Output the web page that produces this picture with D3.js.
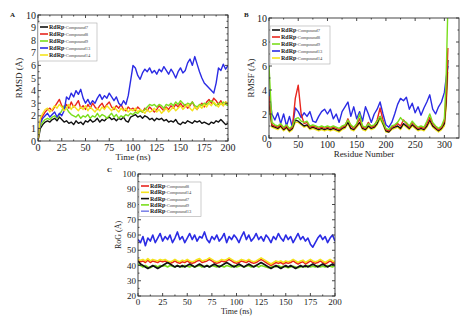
<!DOCTYPE html>
<html>
<head>
<meta charset="UTF-8" />
<script src="https://cdn.jsdelivr.net/npm/d3@7"></script>
<style>
  body { margin: 0; background: #fff; }
  svg { display: block; }
  text { font-family: "Liberation Serif", "DejaVu Serif", serif; fill: #1a1a1a; }
</style>
</head>
<body>
<div id="chart"></div>
<script>
// ---- panel A: RMSD, sampled every 2.5 ns ----
const rmsd7  = [0,1.0,1.3,1.5,1.6,1.5,1.7,1.8,1.6,1.9,1.7,1.5,1.6,1.4,1.5,1.3,1.6,1.4,1.5,1.3,1.6,1.5,1.7,1.5,1.6,1.8,1.5,1.7,1.6,1.8,1.9,1.7,1.8,1.6,1.8,1.7,1.9,1.6,1.5,1.9,2.0,2.1,1.9,2.0,1.8,2.0,1.9,1.7,1.8,1.6,1.8,1.7,1.8,1.6,1.7,1.5,1.6,1.5,1.7,1.4,1.3,1.5,1.4,1.6,1.5,1.4,1.6,1.5,1.6,1.4,1.5,1.4,1.3,1.5,1.4,1.6,1.5,1.7,1.5,1.3,1.4];
const rmsd8  = [0,1.6,2.0,2.3,2.5,2.6,2.4,2.7,3.0,3.3,2.8,2.5,2.9,2.6,3.1,2.7,2.9,3.2,2.6,2.8,2.5,2.9,2.6,3.0,2.7,2.5,2.8,3.0,2.6,2.9,3.1,2.7,2.5,2.8,2.6,2.9,2.5,2.4,2.7,2.5,2.6,2.4,2.7,2.5,2.3,2.6,2.4,2.7,2.5,2.3,2.5,2.8,2.6,2.4,2.7,2.5,2.8,2.6,2.9,2.7,3.0,2.7,2.9,2.6,2.8,3.1,2.7,2.5,2.8,3.0,2.7,3.1,3.3,3.0,3.4,3.2,2.9,3.2,2.8,3.1,2.9];
const rmsd9  = [0.2,1.2,1.5,1.7,1.8,1.7,1.9,2.0,1.8,2.1,2.4,2.8,2.6,2.3,2.1,2.0,1.9,2.1,1.8,2.0,1.9,2.1,1.8,2.0,1.9,2.2,1.9,2.1,2.0,1.8,2.0,2.2,1.9,2.1,1.8,2.0,1.9,2.1,2.0,2.2,2.1,2.3,2.2,2.4,2.3,2.5,2.7,2.9,2.8,2.9,2.7,2.9,2.8,2.6,2.9,2.8,3.0,2.8,3.1,2.9,3.2,3.0,2.8,3.0,2.9,3.1,2.8,2.7,2.9,2.8,3.0,2.9,3.1,3.2,3.0,2.8,3.0,2.9,3.1,2.9,2.8];
const rmsd13 = [0.3,1.4,1.8,2.0,2.2,1.9,2.1,2.3,1.9,2.2,2.0,2.4,3.5,3.3,3.8,3.5,4.0,3.7,4.1,3.4,3.0,3.3,2.9,3.2,3.0,3.4,3.7,3.3,3.6,3.4,3.8,3.5,3.2,3.5,3.0,2.8,3.2,2.9,3.6,4.8,6.0,5.8,5.2,4.9,5.4,5.7,5.5,5.8,5.4,5.6,5.3,5.7,5.5,5.9,5.6,5.3,5.7,5.4,5.0,5.5,5.8,5.4,5.6,6.2,6.5,6.0,6.7,6.1,5.5,5.0,4.6,4.4,4.2,4.0,3.8,4.6,5.8,5.6,6.1,5.7,6.0];
const rmsd14 = [0.1,1.8,2.2,2.5,2.6,2.3,2.5,2.8,2.6,2.9,2.7,2.4,2.6,2.9,2.5,2.8,2.6,2.4,2.7,2.5,2.8,2.4,2.7,2.5,2.3,2.6,2.4,2.7,2.5,2.8,2.6,2.4,2.7,2.5,2.3,2.6,2.4,2.6,2.3,2.5,2.4,2.6,2.3,2.5,2.4,2.2,2.5,2.3,2.4,2.6,2.3,2.5,2.2,2.4,2.6,2.3,2.5,2.7,2.4,2.6,2.8,2.5,2.7,2.9,2.6,2.4,2.7,2.5,2.8,2.6,2.9,2.7,3.0,2.8,3.1,2.9,2.7,3.0,2.8,3.1,3.0];

// ---- panel B: RMSF per residue ----
const residues = [0,5,10,15,20,25,30,35,40,45,50,55,60,65,70,75,80,85,90,95,100,105,110,115,120,125,130,135,140,145,150,155,160,165,170,175,180,185,190,195,200,205,210,215,220,225,230,235,240,245,250,255,260,265,270,275,280,285,290,295,300,303,306];
const rmsf7  = [3.0,1.0,0.9,0.8,1.0,0.7,0.9,0.6,0.8,1.5,1.4,1.2,1.0,1.1,0.8,0.9,0.8,0.7,0.8,0.7,0.8,0.7,0.8,0.7,0.6,0.8,0.9,1.3,0.8,0.7,1.0,1.3,0.8,0.7,1.0,0.8,0.9,1.2,1.8,1.2,0.6,0.5,0.8,0.9,1.0,0.8,1.2,1.0,0.8,1.1,0.9,0.7,0.8,0.7,1.0,1.5,1.0,0.8,0.6,0.8,1.2,3.0,6.5];
const rmsf8  = [3.5,1.1,1.0,0.9,1.1,0.8,1.0,0.7,0.9,3.3,4.4,2.0,1.2,1.3,0.9,1.0,0.9,0.8,0.9,0.8,0.9,0.8,0.9,0.8,0.7,0.9,1.0,1.6,1.0,0.8,1.1,1.6,0.9,0.8,1.3,0.9,1.0,1.5,2.5,1.5,0.7,0.6,0.9,1.0,1.2,1.0,1.5,1.2,0.9,1.3,1.0,0.8,0.9,0.8,1.2,1.7,1.2,0.9,0.7,0.9,1.4,3.5,7.5];
const rmsf9  = [6.0,1.3,1.1,1.0,1.2,0.9,1.1,0.8,1.0,1.6,1.7,1.4,1.3,1.4,1.0,1.1,1.0,0.9,1.0,0.9,1.0,0.9,1.0,0.9,0.8,1.0,1.1,1.5,1.1,0.9,1.2,2.0,1.0,0.9,1.2,1.0,1.1,1.4,1.8,1.3,0.8,0.7,1.0,1.1,1.3,1.7,1.4,1.3,1.0,1.4,1.1,0.9,1.0,0.9,1.4,2.0,1.3,1.0,0.8,1.0,1.6,5.0,11];
const rmsf13 = [4.0,2.0,1.5,2.1,1.2,2.0,1.0,1.8,0.9,2.5,2.2,1.7,2.1,1.8,2.2,1.4,1.3,1.8,2.2,2.4,2.0,2.4,1.6,2.0,1.3,2.2,2.6,3.0,1.8,2.6,1.6,2.2,1.4,2.6,2.0,1.3,2.0,2.4,3.0,2.0,1.1,0.9,1.3,2.0,2.8,3.3,3.1,3.4,2.4,2.9,2.1,2.6,1.9,2.5,3.0,3.6,2.4,2.0,2.6,3.0,3.8,5.0,6.0];
const rmsf14 = [2.8,0.9,0.8,0.7,0.9,0.6,0.8,0.5,0.7,1.3,1.3,1.1,0.9,1.0,0.7,0.8,0.7,0.6,0.7,0.6,0.7,0.6,0.7,0.6,0.5,0.7,0.8,1.2,0.7,0.6,0.9,1.2,0.7,0.6,0.9,0.7,0.8,1.1,1.6,1.1,0.5,0.5,0.7,0.8,0.9,0.7,1.1,0.9,0.7,1.0,0.8,0.6,0.7,0.6,0.9,1.3,0.9,0.7,0.5,0.7,1.0,2.5,5.5];

// ---- panel C: radius of gyration, sampled every 2.5 ns ----
const rog13 = [57,55,59,53,58,56,60,55,58,61,56,59,57,60,55,58,62,57,59,55,58,61,57,60,56,59,58,62,57,55,59,57,60,56,58,61,55,59,57,60,58,55,59,62,57,60,56,58,61,57,59,56,60,58,55,59,57,61,58,56,60,57,59,55,58,61,57,59,56,58,54,52,55,58,60,57,59,55,58,60,56];
const rog14 = [44,43.5,44,43,44.5,43,44,43.5,43,44,43.5,44,43,42.5,43,44,43,42.5,43.5,43,44,43,42.5,43,44,44.5,43,43.5,44,45,44,43,42.5,43,44,43.5,44,45,44,43,42.5,43,44,43.5,43,44,43,42.5,43,44,45,44,43,42,41,42,43,42.5,43,42,43,42.5,43,44,43,42,43,43.5,42,43,44,43,42.5,43,44,43,42,43,44,43,42.5];
const rog8  = [43,42.5,43,42,43.5,42,43,42.5,42,43,42.5,43,42,41.5,42,43,42,41.5,42.5,42,43,42,41.5,42,43,43.5,42,42.5,43,44,43,42,41.5,42,43,42.5,43,44,43,42,41.5,42,43,42.5,42,43,42,41.5,42,43,44,43,42,41,40,41,42,41.5,42,41,42,41.5,42,43,42,41,42,42.5,41,42,43,42,41.5,42,43,42,41,42,43,42,41.5];
const rog7  = [43,41,40,39,38,39,40,39,38,39,40,41,42,41,40,39,40,39,40,39,40,41,40,39,40,41,40,39,40,39,40,41,40,39,40,41,42,41,40,39,40,41,40,39,40,41,40,39,40,41,42,41,40,39,38,39,40,39,38,39,40,39,40,39,38,39,40,39,40,39,40,41,40,39,40,41,40,39,40,41,40];
const rog9  = [41,40,39,40,39,38.5,39.5,40,39,40,39.5,40,39,40,39.5,39,40,39.5,39,40,39.5,39,40,39,39.5,40,39,39.5,40,39,40,39.5,39,40,39.5,39,40,39.5,39,40,39,39.5,40,39,39.5,40,39,39.5,40,39,40,39.5,39,38.5,39,39.5,39,40,39,39.5,39,38.5,39,39.5,39,38.5,39,39.5,39,40,39,39.5,39,40,39,39.5,39,40,39.5,39,40];

const timeTicks = [0,25,50,75,100,125,150,175,200];
const col = {c7: "#111", c8: "#e8261e", c9: "#7ade1c", c13: "#2b2be4", c14: "#f4e41c"};

const svg = d3.select("#chart").append("svg").attr("width", 474).attr("height", 328);

function timeX(arr) { return arr.map((v, i) => [i * 200 / (arr.length - 1), v]); }

function panel(o) {
  const x = d3.scaleLinear().domain(o.xd).range([o.l, o.r]);
  const y = d3.scaleLinear().domain(o.yd).range([o.b, o.t]);
  const g = svg.append("g");
  const clipId = "clip" + o.letter;
  g.append("clipPath").attr("id", clipId).append("rect")
    .attr("x", o.l).attr("y", o.t).attr("width", o.r - o.l).attr("height", o.b - o.t);

  const line = d3.line().x(d => x(d[0])).y(d => y(d[1]));
  o.series.forEach(s => {
    g.append("path").attr("clip-path", `url(#${clipId})`)
      .attr("d", line(s.pts)).attr("fill", "none")
      .attr("stroke", s.c).attr("stroke-width", o.sw).attr("stroke-linejoin", "round");
  });

  // frame + inward ticks (grace style)
  g.append("rect").attr("x", o.l).attr("y", o.t).attr("width", o.r - o.l).attr("height", o.b - o.t)
    .attr("fill", "none").attr("stroke", "#333").attr("stroke-width", 0.9);
  const tk = g.append("g").attr("stroke", "#333").attr("stroke-width", 0.9);
  o.xt.forEach((v, i) => {
    const px = x(v);
    tk.append("line").attr("x1", px).attr("x2", px).attr("y1", o.b).attr("y2", o.b - 3);
    tk.append("line").attr("x1", px).attr("x2", px).attr("y1", o.t).attr("y2", o.t + 3);
    if (i < o.xt.length - 1) {
      const m = x((v + o.xt[i + 1]) / 2);
      tk.append("line").attr("x1", m).attr("x2", m).attr("y1", o.b).attr("y2", o.b - 1.5);
      tk.append("line").attr("x1", m).attr("x2", m).attr("y1", o.t).attr("y2", o.t + 1.5);
    }
    g.append("text").attr("x", px).attr("y", o.b + o.fs).attr("text-anchor", "middle")
      .attr("font-size", o.fs).text(v);
  });
  o.yt.forEach((v, i) => {
    const py = y(v);
    tk.append("line").attr("y1", py).attr("y2", py).attr("x1", o.l).attr("x2", o.l + 3);
    tk.append("line").attr("y1", py).attr("y2", py).attr("x1", o.r).attr("x2", o.r - 3);
    if (i < o.yt.length - 1) {
      const m = y((v + o.yt[i + 1]) / 2);
      tk.append("line").attr("y1", m).attr("y2", m).attr("x1", o.l).attr("x2", o.l + 1.5);
      tk.append("line").attr("y1", m).attr("y2", m).attr("x1", o.r).attr("x2", o.r - 1.5);
    }
    g.append("text").attr("x", o.l - 2).attr("y", py + o.fs * 0.35).attr("text-anchor", "end")
      .attr("font-size", o.fs).text(v);
  });

  g.append("text").attr("x", (o.l + o.r) / 2).attr("y", o.b + o.fs + 9).attr("text-anchor", "middle")
    .attr("font-size", o.fs - 1).text(o.xl);
  g.append("text").attr("transform", `translate(${o.yx},${(o.t + o.b) / 2}) rotate(-90)`)
    .attr("text-anchor", "middle").attr("font-size", o.fs - 1).text(o.yl);
  g.append("text").attr("x", o.lx).attr("y", o.ly).attr("font-size", 7).attr("font-weight", "bold").text(o.letter);

  // legend
  const lg = g.append("g").attr("transform", `translate(${o.leg[0]},${o.leg[1]})`);
  lg.append("rect").attr("width", o.leg[2]).attr("height", o.legend.length * o.leg[3] + 3)
    .attr("fill", "#fff").attr("stroke", "#aaa").attr("stroke-width", 0.6);
  o.legend.forEach((s, i) => {
    const ry = 4 + i * o.leg[3];
    lg.append("line").attr("x1", 2).attr("x2", 10).attr("y1", ry).attr("y2", ry)
      .attr("stroke", s.c).attr("stroke-width", 1.6);
    const t = lg.append("text").attr("x", 11).attr("y", ry + 2);
    t.append("tspan").attr("font-size", 6).attr("font-weight", "bold").text("RdRp");
    t.append("tspan").attr("font-size", 4.5).attr("fill", "#444").text("-" + s.name);
  });
}

const setA = [
  {name: "Compound7", c: col.c7, pts: timeX(rmsd7)},
  {name: "Compound8", c: col.c8, pts: timeX(rmsd8)},
  {name: "Compound9", c: col.c9, pts: timeX(rmsd9)},
  {name: "Compound13", c: col.c13, pts: timeX(rmsd13)},
  {name: "Compound14", c: col.c14, pts: timeX(rmsd14)}
];
panel({letter: "A", l: 38, r: 228, t: 15, b: 141, xd: [0, 200], yd: [0, 10],
  xt: timeTicks, yt: [0,1,2,3,4,5,6,7,8,9,10], fs: 10, sw: 1.4,
  xl: "Time (ns)", yl: "RMSD (Å)", yx: 22, lx: 10, ly: 17,
  leg: [38, 23, 59, 7], series: setA, legend: setA});

const rz = arr => arr.map((v, i) => [residues[i], v]);
const setB = {
  c7: {name: "Compound7", c: col.c7, pts: rz(rmsf7)},
  c8: {name: "Compound8", c: col.c8, pts: rz(rmsf8)},
  c9: {name: "Compound9", c: col.c9, pts: rz(rmsf9)},
  c13: {name: "Compound13", c: col.c13, pts: rz(rmsf13)},
  c14: {name: "Compound14", c: col.c14, pts: rz(rmsf14)}
};
panel({letter: "B", l: 269, r: 459, t: 18, b: 138, xd: [0, 325], yd: [0, 10],
  xt: [0,50,100,150,200,250,300], yt: [0,2,4,6,8,10], fs: 10, sw: 1.4,
  xl: "Residue Number", yl: "RMSF (Å)", yx: 254, lx: 244, ly: 17,
  leg: [270, 26, 60, 7],
  series: [setB.c13, setB.c14, setB.c7, setB.c8, setB.c9],
  legend: [setB.c7, setB.c8, setB.c9, setB.c13, setB.c14]});

const setC = {
  c8: {name: "Compound8", c: col.c8, pts: timeX(rog8)},
  c14: {name: "Compound14", c: col.c14, pts: timeX(rog14)},
  c7: {name: "Compound7", c: col.c7, pts: timeX(rog7)},
  c9: {name: "Compound9", c: col.c9, pts: timeX(rog9)},
  c13: {name: "Compound13", c: "#7f86e8", pts: timeX(rog13)}
};
panel({letter: "C", l: 138, r: 335, t: 174, b: 296, xd: [0, 200], yd: [20, 100],
  xt: timeTicks, yt: [20,30,40,50,60,70,80,90,100], fs: 9, sw: 1.6,
  xl: "Time (ns)", yl: "RoG (Å)", yx: 121, lx: 107, ly: 172,
  leg: [139, 182, 62, 6.3],
  series: [setC.c8, setC.c14, setC.c9, setC.c7, Object.assign({}, setC.c13, {c: col.c13})],
  legend: [setC.c8, setC.c14, setC.c7, setC.c9, setC.c13]});
</script>
</body>
</html>
